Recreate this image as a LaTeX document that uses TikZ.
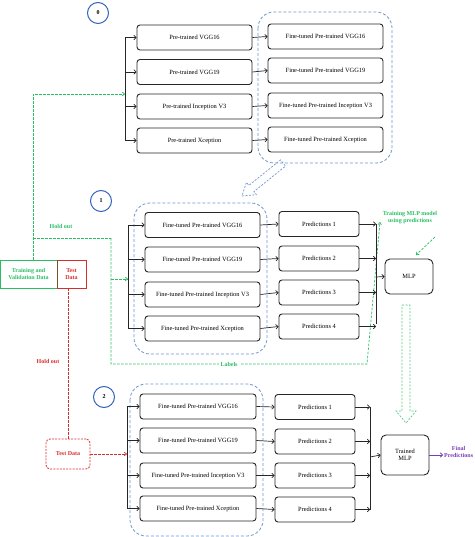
\documentclass[tikz,border=0pt]{standalone}
\usepackage{fontspec}
\setmainfont{Liberation Serif}
\usetikzlibrary{arrows.meta}
\definecolor{gcol}{RGB}{40,190,100}
\definecolor{bdash}{RGB}{110,150,210}
\definecolor{bcirc}{RGB}{50,100,185}
\definecolor{rcol}{RGB}{215,45,45}
\definecolor{pcol}{RGB}{120,60,180}
\definecolor{brn}{RGB}{120,80,40}
\tikzset{
  box/.style={draw=black!85, rounded corners=3pt, line width=0.9pt, minimum height=25pt, inner sep=1pt, font=\fontsize{6.4}{7}\selectfont, text=black},
  wbig/.style={box, minimum width=115pt},
  pred/.style={box, minimum width=80pt},
  mlpbox/.style={box, rounded corners=5pt, minimum width=48pt, align=center},
  stepcirc/.style={circle, draw=bcirc, line width=1pt, minimum size=21pt, inner sep=0pt, font=\fontsize{6}{7}\selectfont\bfseries},
  arr/.style={-{To[length=3pt,width=5pt]}, line width=0.7pt, draw=black!85},
  brk/.style={line width=0.7pt, draw=black!85},
  gdash/.style={draw=gcol, dashed, dash pattern=on 2.5pt off 1.5pt, line width=0.7pt},
  rdash/.style={draw=rcol, dashed, dash pattern=on 2.5pt off 1.5pt, line width=0.7pt},
  bgroup/.style={draw=bdash, dashed, dash pattern=on 3pt off 2pt, line width=0.8pt, rounded corners=16pt},
  gtext/.style={text=gcol, font=\fontsize{6}{7}\selectfont\bfseries, align=center},
}
\begin{document}
\begin{tikzpicture}[x=1pt,y=-1pt]
\useasboundingbox (0,0) rectangle (474,537);

% ---------- Section 0 ----------
\node[stepcirc] (c0) at (98,13) {0};
\node[wbig] (p0a) at (194.5,37.5) {Pre-trained VGG16};
\node[wbig] (p0b) at (194.5,72) {Pre-trained VGG19};
\node[wbig] (p0c) at (194.5,106.5) {Pre-trained Inception V3};
\node[wbig] (p0d) at (194.5,140.5) {Pre-trained Xception};
\node[wbig] (f0a) at (325.5,36.5) {Fine-tuned Pre-trained VGG16};
\node[wbig] (f0b) at (325.5,70.5) {Fine-tuned Pre-trained VGG19};
\node[wbig] (f0c) at (325.5,105.5) {Fine-tuned Pre-trained Inception V3};
\node[wbig] (f0d) at (325.5,139.5) {Fine-tuned Pre-trained Xception};
\draw[bgroup] (258,12) rectangle (392,163);
\coordinate (b0) at (125,94);
\draw[brk] (p0a.west -| b0) -- (p0d.west -| b0);
\foreach \n in {p0a,p0b,p0c,p0d} \draw[arr] (\n.west -| b0) -- (\n.west);
\draw[arr] (p0a.east) -- (f0a.west);
\draw[arr] (p0b.east) -- (f0b.west);
\draw[arr] (p0c.east) -- (f0c.west);
\draw[arr] (p0d.east) -- (f0d.west);

% hollow blue arrow
\draw[bdash, dashed, dash pattern=on 2pt off 1.5pt, line width=0.7pt]
  (242,196) -- (256.4,194.7) -- (253.9,191.6) -- (285.5,166.1) -- (280.5,159.9)
  -- (248.9,185.4) -- (246.4,182.3) -- cycle;

% ---------- Data boxes ----------
\node[draw=gcol, line width=0.8pt, minimum width=57pt, minimum height=28pt, inner sep=0pt,
      text=gcol, font=\fontsize{6}{7}\selectfont\bfseries, align=center] (tv) at (28.5,274)
      {Training and\\Validation Data};
\node[draw=rcol, line width=0.8pt, minimum width=29pt, minimum height=28pt, inner sep=0pt,
      text=rcol, font=\fontsize{6}{7}\selectfont\bfseries, align=center] (td) at (71.5,274)
      {Test\\Data};
\draw[gcol, line width=1.6pt] (tv.north west) -- (tv.south west);
\draw[brn, line width=1pt] (tv.north east) -- (tv.south east);

% green paths
\coordinate (gv) at (33,238);
\coordinate (gc) at (111,238);
\coordinate (gl) at (111,364);
\coordinate (gr) at (367,364);
\coordinate (gtip) at (380,222);
\coordinate (gm) at (111,279);
\draw[gdash, -{To[length=3pt,width=4pt]}] (tv.north -| gv) |- (b0);
\draw[gdash] (gv) -- (gc);
\draw[gdash, -{To[length=3pt,width=4pt]}] (gc) -- (gl) -- (gr) -- (gtip);
\node[gtext, fill=white, inner sep=2pt] (lab) at (229,364) {Labels};
\node[gtext] (hold1) at (61,226) {Hold out};

% ---------- Section 1 ----------
\node[stepcirc] (c1) at (101,201) {1};
\node[wbig] (f1a) at (202.5,225) {Fine-tuned Pre-trained VGG16};
\node[wbig] (f1b) at (202.5,259.5) {Fine-tuned Pre-trained VGG19};
\node[wbig] (f1c) at (202.5,294.5) {Fine-tuned Pre-trained Inception V3};
\node[wbig] (f1d) at (202.5,328.5) {Fine-tuned Pre-trained Xception};
\node[pred] (q1a) at (319,224) {Predictions 1};
\node[pred] (q1b) at (319,258.5) {Predictions 2};
\node[pred] (q1c) at (319,292.5) {Predictions 3};
\node[pred] (q1d) at (319,326.5) {Predictions 4};
\draw[bgroup] (134,203) rectangle (267,354);
\coordinate (b1) at (128,279);
\draw[gdash, -{To[length=3pt,width=4pt]}] (gm) -- (b1);
\draw[brk] (f1a.west -| b1) -- (f1d.west -| b1);
\foreach \n in {f1a,f1b,f1c,f1d} \draw[arr] (\n.west -| b1) -- (\n.west);
\draw[arr] (f1a.east) -- (q1a.west);
\draw[arr] (f1b.east) -- (q1b.west);
\draw[arr] (f1c.east) -- (q1c.west);
\draw[arr] (f1d.east) -- (q1d.west);
\node[mlpbox, minimum height=35pt] (mlp) at (409,276.5) {MLP};
\coordinate (m1) at (376,277);
\draw[brk] (q1a.east -| m1) -- ([yshift=3pt]q1d.east -| m1);
\foreach \n in {q1a,q1b,q1c,q1d} \draw[arr] (\n.east) -- (\n.east -| m1);
\draw[arr] (m1) -- (mlp.west);
\node[gtext] (tm) at (410,217.5) {Training MLP model\\using predictions};
\coordinate (tmp) at (435,237);
\coordinate (tmq) at (416,255);
\draw[gdash, -{To[length=3pt,width=4pt]}] (tmp) -- (tmq);

% hollow green arrow
\draw[gcol!80!white, dashed, dash pattern=on 2pt off 1.5pt, line width=0.7pt]
  (402,305) -- (410,305) -- (410,411) -- (416,411) -- (406,423) -- (396,411) -- (402,411) -- cycle;

% ---------- Section 2 ----------
\node[stepcirc] (c2) at (104,397) {2};
\node[font=\fontsize{6}{7}\selectfont\bfseries, text=rcol] (hold2) at (48,361) {Hold out};
\node[draw=rcol, dashed, dash pattern=on 2pt off 1.2pt, rounded corners=4pt, line width=0.8pt,
      minimum width=44pt, minimum height=30pt, text=rcol, font=\fontsize{6}{7}\selectfont\bfseries] (td2) at (68,454) {Test Data};
\draw[rdash] (td.south -| td2.north) -- (td2.north);
\coordinate (b2) at (127,454);
\draw[rdash, -{To[length=3pt,width=4pt]}] (td2.east) -- (b2);
\node[wbig, minimum width=116pt] (f2a) at (198,406.5) {Fine-tuned Pre-trained VGG16};
\node[wbig, minimum width=116pt] (f2b) at (198,440.5) {Fine-tuned Pre-trained VGG19};
\node[wbig, minimum width=116pt] (f2c) at (198,475.5) {Fine-tuned Pre-trained Inception V3};
\node[wbig, minimum width=116pt] (f2d) at (198,508.5) {Fine-tuned Pre-trained Xception};
\node[pred] (q2a) at (315,407) {Predictions 1};
\node[pred] (q2b) at (315,441.5) {Predictions 2};
\node[pred] (q2c) at (315,475.5) {Predictions 3};
\node[pred] (q2d) at (315,509.5) {Predictions 4};
\draw[bgroup] (130,384) rectangle (263,536);
\draw[brk] (f2a.west -| b2) -- (f2d.west -| b2);
\foreach \n in {f2a,f2b,f2c,f2d} \draw[arr] (\n.west -| b2) -- (\n.west);
\draw[arr] (f2a.east) -- (q2a.west);
\draw[arr] (f2b.east) -- (q2b.west);
\draw[arr] (f2c.east) -- (q2c.west);
\draw[arr] (f2d.east) -- (q2d.west);
\node[mlpbox, minimum height=40pt] (tmlp) at (405,455) {Trained\\MLP};
\coordinate (m2) at (370,457);
\draw[brk] (q2a.east -| m2) -- (q2d.east -| m2);
\foreach \n in {q2a,q2b,q2c,q2d} \draw[arr] (\n.east) -- (\n.east -| m2);
\draw[arr] (m2) -- (tmlp.west);
\node[text=pcol, font=\fontsize{6}{7}\selectfont\bfseries, align=center, anchor=west, inner sep=1pt] (fin) at (443,452) {Final\\Predictions};
\draw[-{To[length=3pt,width=5pt]}, pcol, line width=0.8pt] (tmlp.east) -- (fin.west |- tmlp.east);
\end{tikzpicture}
\end{document}
